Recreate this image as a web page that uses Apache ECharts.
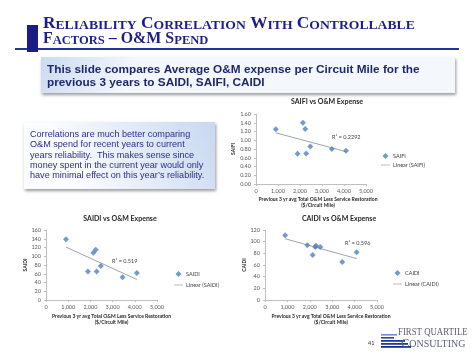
<!DOCTYPE html>
<html><head><meta charset="utf-8">
<script src="https://cdn.jsdelivr.net/npm/echarts@6/dist/echarts.min.js"></script>
<style>html,body{margin:0;padding:0;background:#fff}#c{width:474px;height:355px}</style>
</head><body><div id="c"></div>
<script>
// ---- data ----
const expense = [900, 1890, 2130, 2240, 2280, 2470, 3450, 4090]; // $/circuit mile
const saifiVals = [1.25, 0.69, 1.40, 1.26, 0.70, 0.86, 0.80, 0.76];
const saidiVals = [139, 65, 108, 115, 65, 78, 52, 62];
const caidiVals = [111, 94, 77, 91, 93, 91, 65, 82];
const trendX = [900, 4090];
const saifiTrend = [1.17, 0.74];
const saidiTrend = [121, 47];
const caidiTrend = [105, 71];
const r2Labels = ['R² = 0.2292', 'R² = 0.519', 'R² = 0.596'];
const chartTitles = ['SAIFI vs O&M Expense', 'SAIDI vs O&M Expense', 'CAIDI vs O&M Expense'];
const seriesNames = ['SAIFI', 'SAIDI', 'CAIDI'];
const xAxisTitle = 'Previous 3 yr avg Total O&M Less Service Restoration\n($/Circuit Mile)';
const slideTitle1 = 'Reliability Correlation With Controllable';
const slideTitle2 = 'Factors – O&M Spend';
const headerText = 'This slide compares Average O&M expense per Circuit Mile for the\nprevious 3 years to SAIDI, SAIFI, CAIDI';
const noteText = 'Correlations are much better comparing\nO&M spend for recent years to current\nyears reliability.  This makes sense since\nmoney spent in the current year would only\nhave minimal effect on this year’s reliability.';
const logoLine1 = 'FIRST QUARTILE';
const logoLine2 = 'Consulting';
const pageNumber = '41';

const chart = echarts.init(document.getElementById('c'));
const F = 'Lato, "Open Sans", sans-serif';
const BLUE = '#4f81bd';
const TREND = '#9ea3ab';

function pts(ys) { return expense.map((x, i) => [x, ys[i]]); }
function trend(ys) { return trendX.map((x, i) => [x, ys[i]]); }

function smallCaps(str) {
  let out = '', cur = '', cls = null;
  const flush = () => { if (cur) out += '{' + cls + '|' + (cls === 's' ? cur.toUpperCase() : cur) + '}'; cur = ''; };
  for (const ch of str) {
    const c = (ch >= 'a' && ch <= 'z') ? 's' : 'b';
    if (c !== cls) { flush(); cls = c; }
    cur += ch;
  }
  flush();
  return out;
}
const TC = '#1d1d8c';
const titleRich = {
  b: { fontSize: 16.5, fontFamily: '"Liberation Serif", serif', fontWeight: 'bold', fill: TC, verticalAlign: 'bottom', lineHeight: 16 },
  s: { fontSize: 13, fontFamily: '"Liberation Serif", serif', fontWeight: 'bold', fill: TC, verticalAlign: 'bottom', lineHeight: 16 }
};
const LC = '#5b5f78';
const logoRich1 = {
  b: { fontSize: 11, fontFamily: '"Liberation Serif", serif', fill: LC, verticalAlign: 'bottom', lineHeight: 11 }
};
const logoRich2 = {
  b: { fontSize: 13, fontFamily: '"Liberation Serif", serif', fill: LC, verticalAlign: 'bottom', lineHeight: 13 },
  s: { fontSize: 10.5, fontFamily: '"Liberation Serif", serif', fill: LC, verticalAlign: 'bottom', lineHeight: 13 }
};

const grids = [
  { left: 256, top: 114, width: 110, height: 70 },
  { left: 46, top: 230, width: 111, height: 70 },
  { left: 265, top: 230, width: 112, height: 70 }
];
const yCfg = [
  { max: 1.6, interval: 0.2, fmt: v => v.toFixed(2), gap: 17 },
  { max: 160, interval: 20, fmt: v => String(v), gap: 13 },
  { max: 120, interval: 20, fmt: v => String(v), gap: 17 }
];
const vals = [saifiVals, saidiVals, caidiVals];
const trends = [saifiTrend, saidiTrend, caidiTrend];
const legendPos = [{ left: 381, top: 153 }, { left: 174, top: 271 }, { left: 393, top: 270 }];
const legendGap = [3, 5, 5];
const titlePos = [[327, 102], [120, 219], [339, 219]];
const r2Pos = [[332, 137], [112, 261], [345, 243]];

const axisLine = { show: true, lineStyle: { color: '#bfbfbf', width: 1 } };
const axisLabel = { fontSize: 5.5, color: '#595959', fontFamily: F };
const DIAMOND = 'path://M5 0 L10 5 L5 10 L0 5 Z';
const DASH = 'path://M0 0 H12 V1 H0 Z';

const option = {
  animation: false,
  backgroundColor: '#ffffff',
  grid: grids,
  xAxis: grids.map((g, i) => ({
    gridIndex: i, type: 'value', min: 0, max: 5000, interval: 1000,
    axisLine: axisLine, axisTick: { show: true, length: 2, lineStyle: { color: '#bfbfbf' } },
    splitLine: { show: false },
    axisLabel: Object.assign({ margin: 4, formatter: v => v.toLocaleString('en-US') }, axisLabel),
    name: xAxisTitle, nameLocation: 'middle', nameGap: i === 0 ? 12 : 13,
    nameTextStyle: { fontSize: 5, fontWeight: 'bold', color: '#262626', fontFamily: F, lineHeight: 6.5, padding: [0, 0, 0, i === 0 ? 14 : 20] }
  })),
  yAxis: grids.map((g, i) => ({
    gridIndex: i, type: 'value', min: 0, max: yCfg[i].max, interval: yCfg[i].interval,
    axisLine: axisLine, axisTick: { show: true, length: 2, lineStyle: { color: '#bfbfbf' } },
    splitLine: { show: false },
    axisLabel: Object.assign({ margin: 5, formatter: yCfg[i].fmt }, axisLabel),
    name: seriesNames[i], nameLocation: 'middle', nameRotate: 90, nameGap: yCfg[i].gap,
    nameTextStyle: { fontSize: 5, fontWeight: 'bold', color: '#262626', fontFamily: F }
  })),
  legend: grids.map((g, i) => ({
    left: legendPos[i].left, top: legendPos[i].top, orient: 'vertical',
    itemWidth: 9, itemHeight: 6, itemGap: legendGap[i], padding: 0, symbolKeepAspect: true,
    textStyle: { fontSize: 5.5, color: '#404040', fontFamily: F, padding: [0, 0, 0, -2] },
    data: [
      { name: seriesNames[i], icon: DIAMOND, itemStyle: { color: BLUE } },
      { name: 'Linear (' + seriesNames[i] + ')', icon: DASH, itemStyle: { color: TREND } }
    ]
  })),
  series: [].concat(
    grids.map((g, i) => ({
      name: seriesNames[i], type: 'scatter', xAxisIndex: i, yAxisIndex: i,
      symbol: 'diamond', symbolSize: 6, itemStyle: { color: BLUE }, z: 3,
      data: pts(vals[i])
    })),
    grids.map((g, i) => ({
      name: 'Linear (' + seriesNames[i] + ')', type: 'line', xAxisIndex: i, yAxisIndex: i,
      symbol: 'none', lineStyle: { color: TREND, width: 1 }, itemStyle: { color: TREND }, z: 2,
      data: trend(trends[i])
    }))
  ),
  graphic: [
    // slide title
    { type: 'rect', shape: { x: 15, y: 48, width: 444, height: 2 }, style: { fill: '#28309a' } },
    { type: 'rect', shape: { x: 27, y: 25, width: 11, height: 27 }, style: { fill: '#1c1c86' } },
    { type: 'text', x: 43, y: 16, scaleX: 1.05, style: { text: smallCaps(slideTitle1), rich: titleRich } },
    { type: 'text', x: 43, y: 31, scaleX: 0.965, style: { text: smallCaps(slideTitle2), rich: titleRich } },
    // header box
    { type: 'rect', shape: { x: 41, y: 57, width: 414, height: 36 },
      style: { fill: { type: 'linear', x: 0, y: 0, x2: 0.2, y2: 1, colorStops: [{ offset: 0, color: '#cbdaf1' }, { offset: 1, color: '#f4f7fc' }] },
        shadowBlur: 3, shadowOffsetY: 2, shadowOffsetX: 1, shadowColor: 'rgba(0,0,0,0.4)' } },
    { type: 'text', x: 47, y: 63.5, style: { text: headerText, font: 'bold 11.8px "Liberation Sans", Arial, sans-serif', fill: '#1d2870', lineHeight: 12.5 } },
    // note box
    { type: 'rect', shape: { x: 24, y: 122, width: 191, height: 67 },
      style: { fill: { type: 'linear', x: 1, y: 0, x2: 0.3, y2: 1, colorStops: [{ offset: 0, color: '#c7d8f1' }, { offset: 1, color: '#fbfcfe' }] },
        shadowBlur: 3, shadowOffsetY: 2, shadowOffsetX: 1, shadowColor: 'rgba(0,0,0,0.4)' } },
    { type: 'text', x: 30, y: 129, style: { text: noteText, font: '9.1px "Liberation Sans", Arial, sans-serif', fill: '#2b2d8c', lineHeight: 10.4 } }
  ].concat(
    chartTitles.map((t, i) => ({ type: 'text', x: titlePos[i][0], y: titlePos[i][1], style: { text: t, font: 'bold 7px ' + F, fill: '#262626', textAlign: 'center', textVerticalAlign: 'middle' } })),
    r2Labels.map((t, i) => ({ type: 'text', x: r2Pos[i][0], y: r2Pos[i][1], style: { text: t, font: '5.5px ' + F, fill: '#404040', textVerticalAlign: 'middle' } })),
    [
      { type: 'text', x: 368, y: 343, style: { text: pageNumber, font: '5.5px ' + F, fill: '#333', textVerticalAlign: 'middle' } },
      { type: 'rect', shape: { x: 381, y: 334, width: 16, height: 1.6 }, style: { fill: '#6f8fd6' } },
      { type: 'rect', shape: { x: 381, y: 337, width: 13, height: 1.6 }, style: { fill: '#2a49b0' } },
      { type: 'rect', shape: { x: 381, y: 340, width: 24, height: 1.8 }, style: { fill: '#1e3a9e' } },
      { type: 'rect', shape: { x: 381, y: 343, width: 27, height: 1.8 }, style: { fill: '#1e3a9e' } },
      { type: 'rect', shape: { x: 381, y: 346, width: 30, height: 1.8 }, style: { fill: '#1a2f8a' } },
      { type: 'text', x: 398, y: 327, scaleX: 0.8, style: { text: '{b|' + logoLine1 + '}', rich: logoRich1 } },
      { type: 'text', x: 401, y: 337, scaleX: 0.95, style: { text: smallCaps(logoLine2), rich: logoRich2 } }
    ]
  )
};
chart.setOption(option);
</script>
</body></html>
